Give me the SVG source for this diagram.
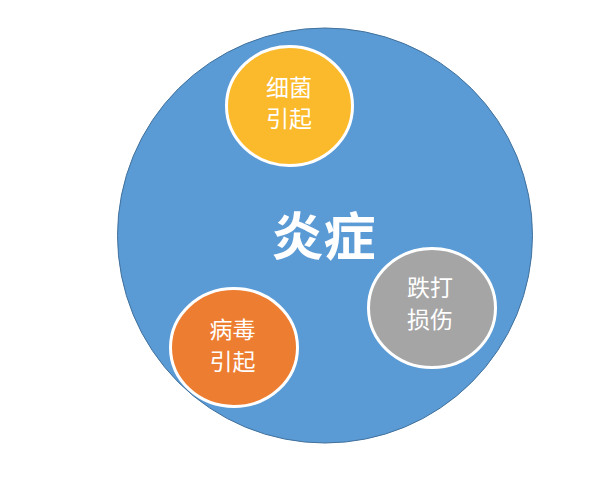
<svg xmlns="http://www.w3.org/2000/svg" width="610" height="495" viewBox="0 0 610 495">
<style>
.lbl{font-family:"Noto Sans CJK SC","Noto Sans",sans-serif;font-size:23px;fill:#fff;text-anchor:middle}
.main{font-family:"Noto Sans CJK SC","Noto Sans",sans-serif;font-size:52px;font-weight:bold;fill:#fff;text-anchor:middle}
.sub{stroke:#fff;stroke-width:3}
</style>
<rect width="610" height="495" fill="#fff"/>
<g id="inflammation">
<ellipse cx="325" cy="235.5" rx="207.5" ry="207.5" fill="#5B9BD5" stroke="#41719C" stroke-width="1"/>
<text class="main" x="323.5" y="256">炎症</text>
</g>
<g id="bacteria">
<ellipse class="sub" cx="289.5" cy="106" rx="63" ry="59.5" fill="#FBBA2C"/>
<text class="lbl" x="289" y="96">细菌</text>
<text class="lbl" x="289" y="127">引起</text>
</g>
<g id="injury">
<ellipse class="sub" cx="432" cy="308" rx="63.5" ry="59.5" fill="#A5A5A5"/>
<text class="lbl" x="430" y="296">跌打</text>
<text class="lbl" x="430" y="328">损伤</text>
</g>
<g id="virus">
<ellipse class="sub" cx="234" cy="347.5" rx="63.5" ry="59" fill="#ED7D31"/>
<text class="lbl" x="232.5" y="338">病毒</text>
<text class="lbl" x="232.5" y="370">引起</text>
</g>
<g id="connectors"></g>
</svg>
